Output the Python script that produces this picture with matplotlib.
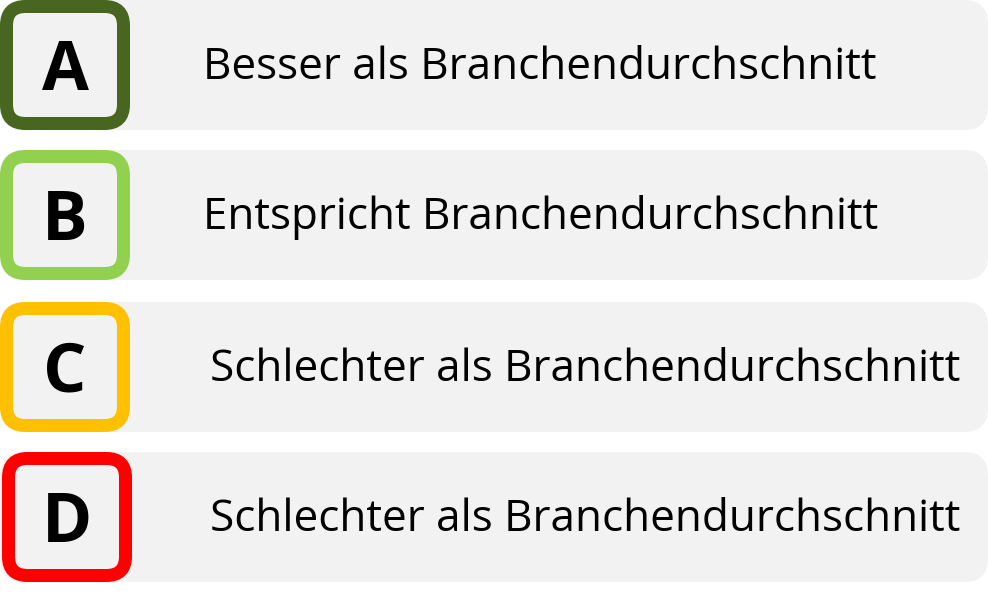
import matplotlib
matplotlib.use("Agg")
import matplotlib.pyplot as plt
from matplotlib.patches import FancyBboxPatch

letters = ["A", "B", "C", "D"]
labels = [
    "Besser als Branchendurchschnitt",
    "Entspricht Branchendurchschnitt",
    "Schlechter als Branchendurchschnitt",
    "Schlechter als Branchendurchschnitt",
]
colors = ["#48661f", "#92d050", "#ffc000", "#ff0000"]

# layout in pixels (figure is 988 x 596 at dpi 100)
W, H = 988, 596
row_top = [0, 150, 302, 452]
row_h = 130
box_x = [0, 0, 0, 2]
text_x = [203, 203, 210, 210]
lw_px = 13
px2pt = 72 / 100

fig = plt.figure(figsize=(W / 100, H / 100), dpi=100)
ax = fig.add_axes([0, 0, 1, 1])
ax.set_xlim(0, W)
ax.set_ylim(H, 0)
ax.axis("off")

for i, (letter, label, col) in enumerate(zip(letters, labels, colors)):
    top = row_top[i]
    # grey background bar
    ax.add_patch(FancyBboxPatch((0, top), W, row_h,
                                boxstyle="round,pad=0,rounding_size=24",
                                fc="#f2f2f2", ec="none", zorder=1))
    # coloured rounded square, stroke centred on path
    h = lw_px / 2
    x0 = box_x[i]
    ax.add_patch(FancyBboxPatch((x0 + h, top + h), row_h - lw_px, row_h - lw_px,
                                boxstyle="round,pad=0,rounding_size=19",
                                fc="#f2f2f2", ec=col, lw=lw_px * px2pt, zorder=2))
    ax.text(x0 + row_h / 2, top + row_h / 2 - 1, letter, ha="center", va="center_baseline",
            fontsize=49, fontweight="bold", family="Open Sans", color="black", zorder=3)
    ax.text(text_x[i], top + row_h / 2 - 2.5, label, ha="left", va="center_baseline",
            fontsize=31.7, family="Open Sans", color="black", zorder=3)

fig.savefig("out.png", dpi=100, facecolor="white")
